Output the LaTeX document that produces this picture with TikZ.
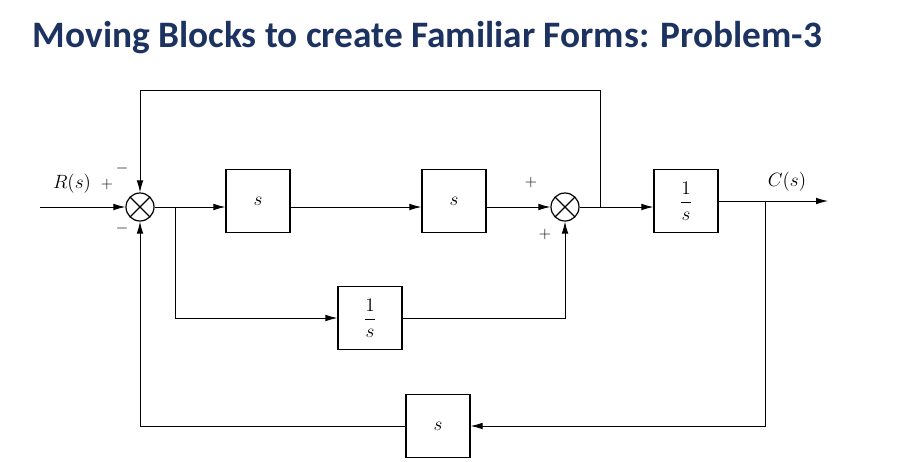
\documentclass[tikz,border=0pt]{standalone}
\usepackage{fontspec}
\setmainfont{Liberation Serif}
\newfontfamily\titlefont{Carlito}
\usetikzlibrary{arrows.meta}
\definecolor{ttl}{RGB}{28,50,96}
\begin{document}
\begin{tikzpicture}[x=0.75pt,y=-0.75pt,
  blk/.style={draw,line width=0.9pt,minimum width=48pt,minimum height=47pt,inner sep=0pt,font=\fontsize{14}{16}\selectfont},
  sumj/.style={draw,circle,line width=0.9pt,minimum size=21pt,inner sep=0pt,path picture={\draw (path picture bounding box.north west)--(path picture bounding box.south east)(path picture bounding box.north east)--(path picture bounding box.south west);}},
  ln/.style={line width=0.7pt},
  ar/.style={ln,-{Latex[length=9pt,width=5pt]}},
  sg/.style={font=\fontsize{12}{12}\selectfont}]
\useasboundingbox (0,0) rectangle (899,461);
\node[anchor=west,font=\titlefont\bfseries\fontsize{28}{32}\selectfont,text=ttl] (title) at (28,38) {Moving Blocks to create Familiar Forms: Problem-3};
\node[sumj] (s1) at (140,207) {};
\node[sumj] (s2) at (565,207) {};
\node[blk] (b1) at (258,201) {$s$};
\node[blk] (b2) at (454,201) {$s$};
\node[blk] (b3) at (686,201) {$\displaystyle\frac{1}{s}$};
\node[blk] (b4) at (370,318) {$\displaystyle\frac{1}{s}$};
\node[blk] (b5) at (438,426) {$s$};
\coordinate (in) at (40,207);
\coordinate (out) at (828,201);
\coordinate (p1) at (175,207);
\coordinate (p2) at (600,207);
\coordinate (p3) at (765,201);
\draw[ar] (in) -- (s1.west);
\draw[ln] (s1.east) -- (p1);
\draw[ar] (p1) -- (p1 -| b1.west);
\draw[ar] (b1.east |- p1) -- (p1 -| b2.west);
\draw[ar] (b2.east |- p1) -- (s2.west);
\draw[ar] (s2.east) -- (b3.west |- s2);
\draw[ar] (b3.east) -- (out);
\draw[ar] (p1) |- (b4.west);
\draw[ar] (b4.east) -| (s2.south);
\draw[ar] (p2) |- (140,90) -- (s1.north);
\draw[ar] (p3) |- (b5.east);
\draw[ar] (b5.west) -| (s1.south);
\node[font=\fontsize{14}{16}\selectfont] (R) at (72,184) {$R(s)$};
\node[font=\fontsize{14}{16}\selectfont] (C) at (787,182) {$C(s)$};
\node[sg] (m1) at (122,168) {$-$};
\node[sg] (pl1) at (107,184) {$+$};
\node[sg] (m2) at (122,228) {$-$};
\node[sg] (pl2) at (531,182) {$+$};
\node[sg] (pl3) at (545,234) {$+$};
\end{tikzpicture}
\end{document}
